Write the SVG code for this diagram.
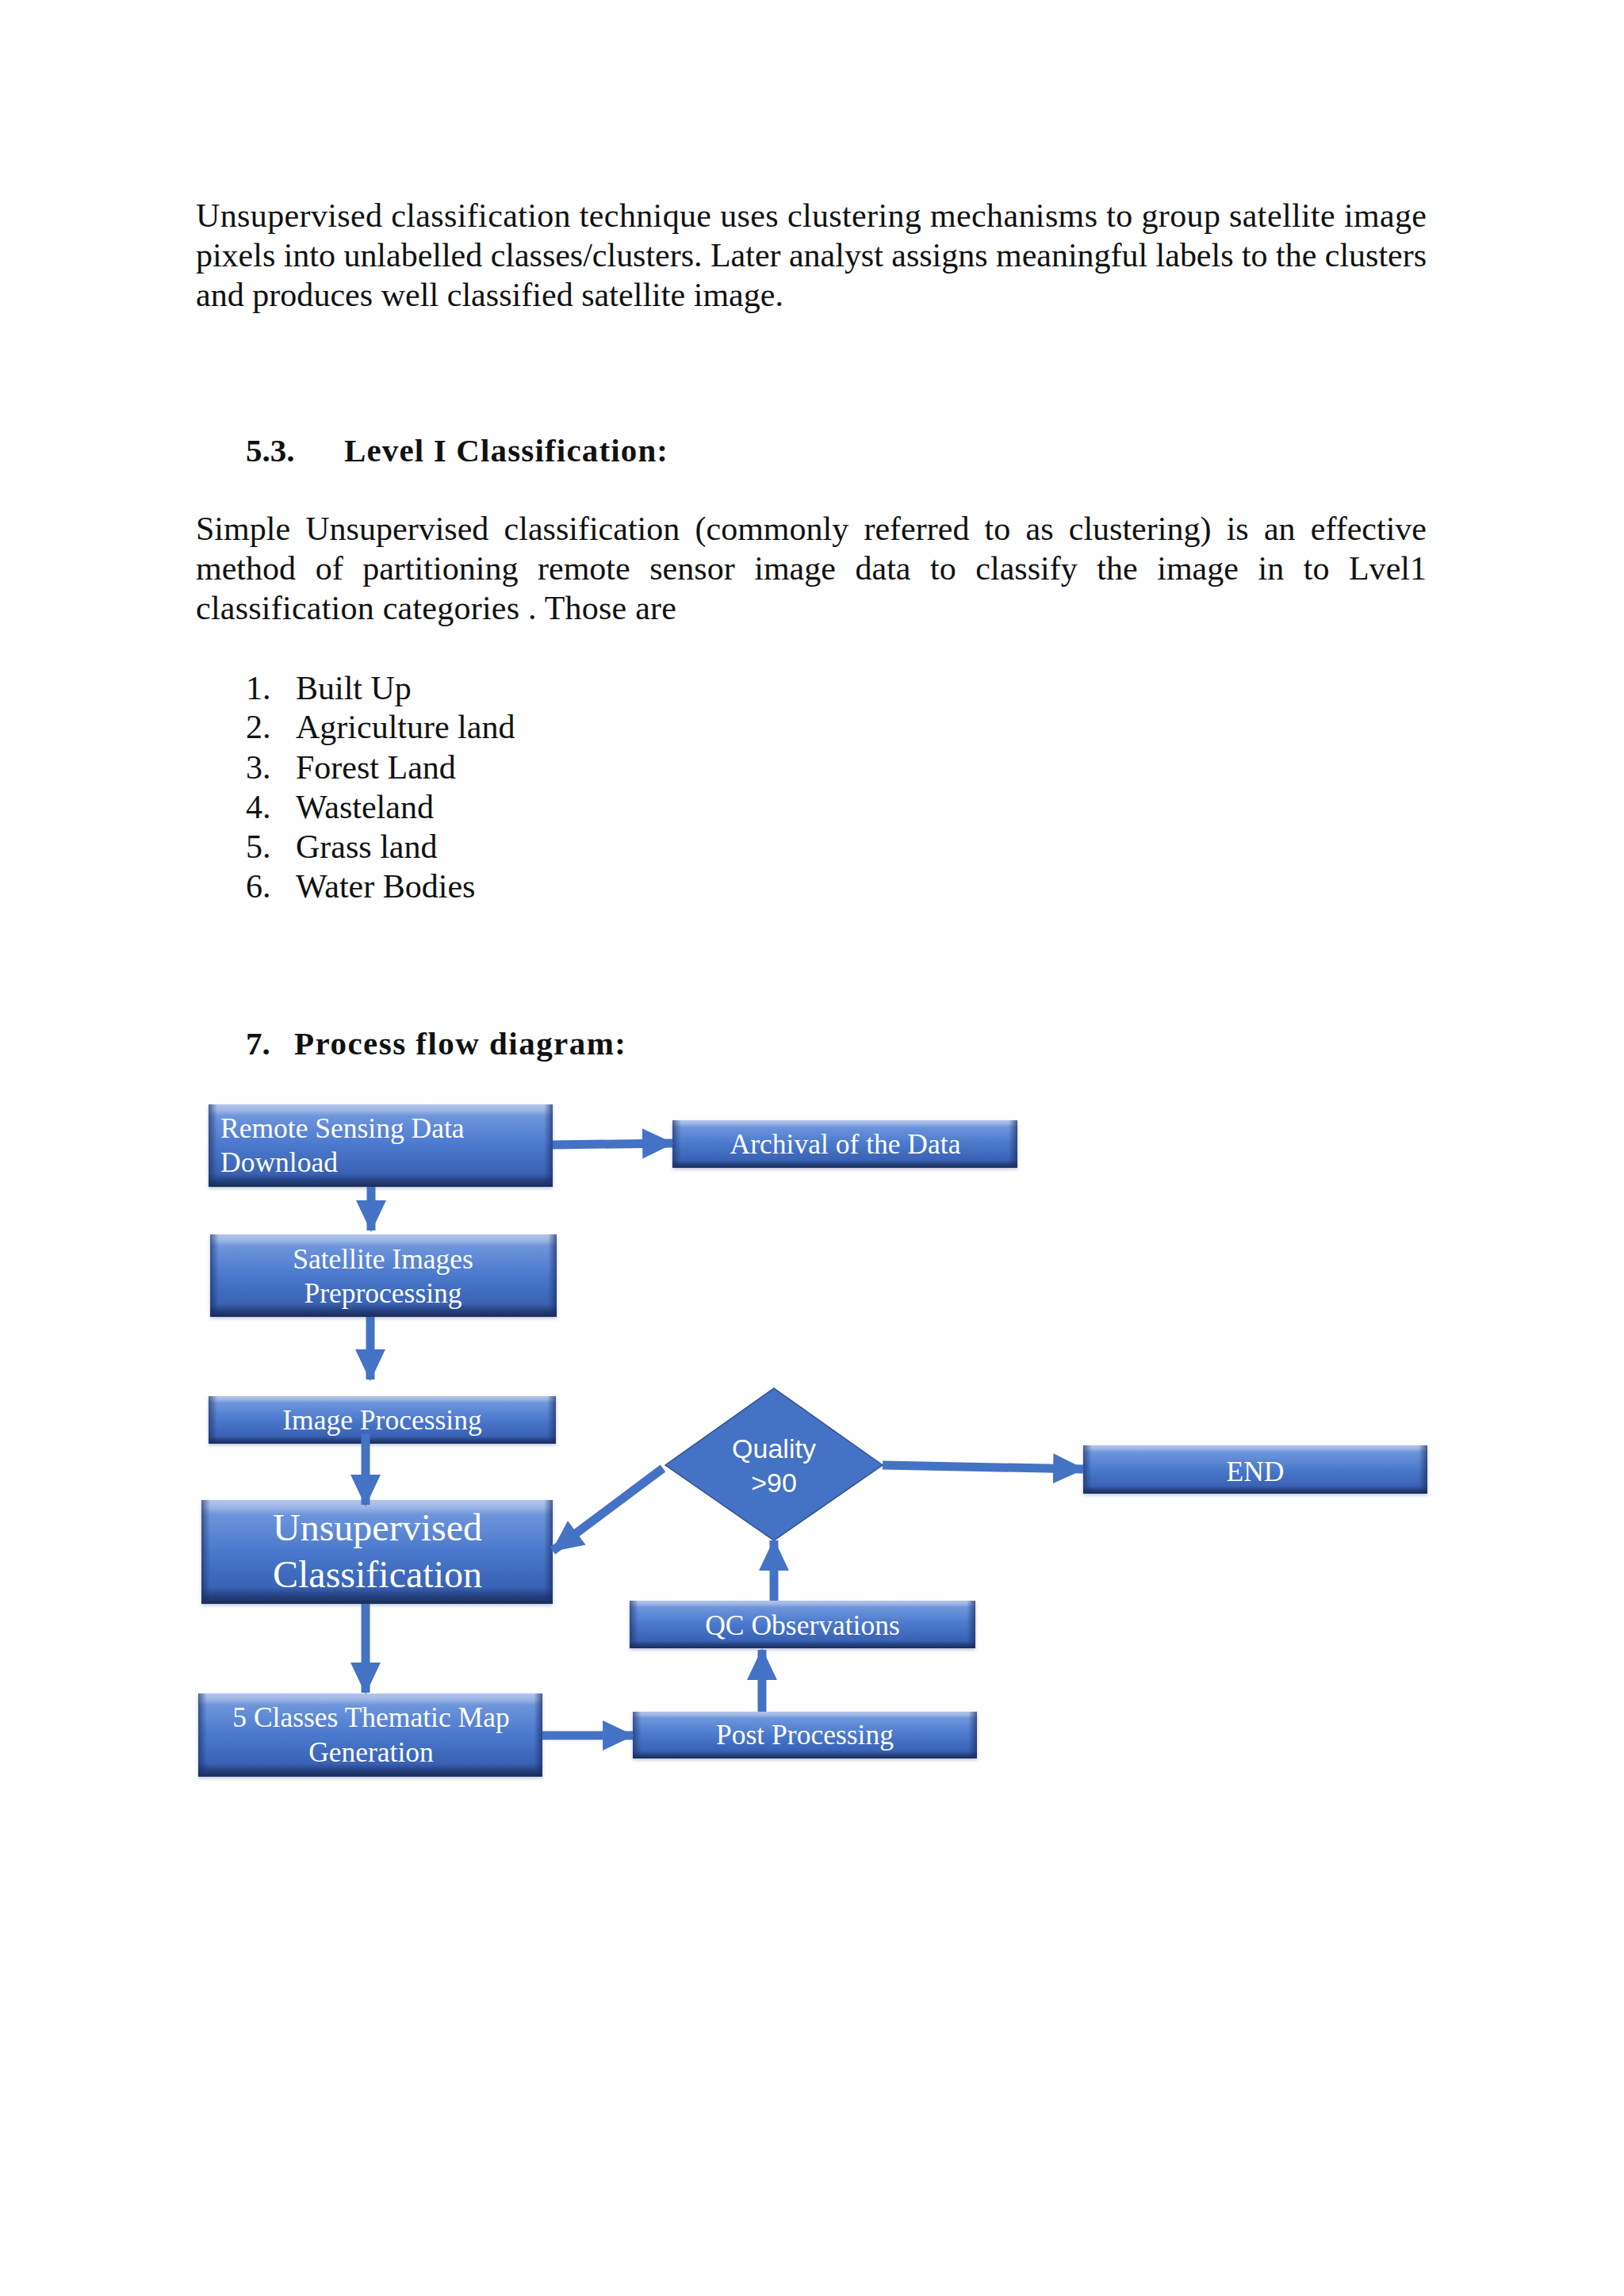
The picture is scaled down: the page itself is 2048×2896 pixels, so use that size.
<svg xmlns="http://www.w3.org/2000/svg" width="2048" height="2896" viewBox="0 0 2048 2896">
<defs>
<linearGradient id="boxV" x1="0" y1="0" x2="0" y2="1">
<stop offset="0" stop-color="#b3c6ea"/>
<stop offset="0.07" stop-color="#9db6e6"/>
<stop offset="0.14" stop-color="#6e95dc"/>
<stop offset="0.5" stop-color="#4a78cc"/>
<stop offset="0.84" stop-color="#3a62b4"/>
<stop offset="0.93" stop-color="#243f7c"/>
<stop offset="1" stop-color="#1b2d57"/>
</linearGradient>
<linearGradient id="boxH" x1="0" y1="0" x2="1" y2="0">
<stop offset="0" stop-color="#1a2f66" stop-opacity="0.65"/>
<stop offset="0.025" stop-color="#1a2f66" stop-opacity="0"/>
<stop offset="0.975" stop-color="#1a2f66" stop-opacity="0"/>
<stop offset="1" stop-color="#1a2f66" stop-opacity="0.7"/>
</linearGradient>
<filter id="sh" x="-5%" y="-10%" width="110%" height="125%">
<feDropShadow dx="0" dy="2" stdDeviation="2" flood-color="#6d7fa8" flood-opacity="0.45"/>
</filter>
<marker id="ah" markerUnits="userSpaceOnUse" markerWidth="40" markerHeight="40" viewBox="0 0 38 36" refX="36" refY="18" orient="auto">
<path d="M0,0 L38,18 L0,36 Z" fill="#4472c4"/>
</marker>
</defs>
<style>
.body{font-family:"Liberation Serif","Times New Roman",serif;font-size:42px;fill:#111;}
.bold{font-weight:bold;font-size:41px;}
.bt{font-family:"Liberation Serif","Times New Roman",serif;font-size:35.5px;fill:#ffffff;text-anchor:middle;}
.big{font-size:48px;}
.box{fill:url(#boxV);filter:url(#sh);}
.edge{fill:url(#boxH);}
.conn{stroke:#4472c4;stroke-width:11;fill:none;marker-end:url(#ah);}
.dia{fill:#4472c4;stroke:#2f528f;stroke-width:1.5;}
.dt{font-family:"Liberation Sans",Arial,sans-serif;font-size:34px;fill:#ffffff;text-anchor:middle;}
</style>
<rect width="2048" height="2896" fill="#ffffff"/>

<g id="text">
<text class="body" x="247" y="286" textLength="1552" lengthAdjust="spacing">Unsupervised classification technique uses clustering mechanisms to group satellite image</text>
<text class="body" x="247" y="336" textLength="1552" lengthAdjust="spacing">pixels into unlabelled classes/clusters. Later analyst assigns meaningful labels to the clusters</text>
<text class="body" x="247" y="386" textLength="741" lengthAdjust="spacing">and produces well classified satellite image.</text>
<text class="body bold" x="310" y="582">5.3.</text>
<text class="body bold" x="434" y="582" textLength="408" lengthAdjust="spacing">Level I Classification:</text>
<text class="body" x="247" y="681" word-spacing="8.7" textLength="1552" lengthAdjust="spacing">Simple Unsupervised classification (commonly referred to as clustering) is an effective</text>
<text class="body" x="247" y="731" word-spacing="14" textLength="1552" lengthAdjust="spacing">method of partitioning remote sensor image data to classify the image in to Lvel1</text>
<text class="body" x="247" y="781" textLength="606" lengthAdjust="spacing">classification categories . Those are</text>
<text class="body" x="310" y="882">1.</text><text class="body" x="373" y="882">Built Up</text>
<text class="body" x="310" y="931">2.</text><text class="body" x="373" y="931">Agriculture land</text>
<text class="body" x="310" y="982">3.</text><text class="body" x="373" y="982">Forest Land</text>
<text class="body" x="310" y="1032">4.</text><text class="body" x="373" y="1032">Wasteland</text>
<text class="body" x="310" y="1082">5.</text><text class="body" x="373" y="1082">Grass land</text>
<text class="body" x="310" y="1132">6.</text><text class="body" x="373" y="1132">Water Bodies</text>
<text class="body bold" x="310" y="1330">7.</text>
<text class="body bold" x="371" y="1330" textLength="418" lengthAdjust="spacing">Process flow diagram:</text>
</g>

<g id="node-remote">
<rect class="box" x="263" y="1393" width="434" height="104"/>
<rect class="edge" x="263" y="1393" width="434" height="104"/>
<text class="bt" x="278" y="1435" style="text-anchor:start">Remote Sensing Data</text>
<text class="bt" x="278" y="1478" style="text-anchor:start">Download</text>
</g>
<g id="node-archival">
<rect class="box" x="848" y="1413" width="435" height="60"/>
<rect class="edge" x="848" y="1413" width="435" height="60"/>
<text class="bt" x="1066" y="1455">Archival of the Data</text>
</g>
<g id="node-satellite">
<rect class="box" x="265" y="1557" width="437" height="104"/>
<rect class="edge" x="265" y="1557" width="437" height="104"/>
<text class="bt" x="483" y="1600">Satellite Images</text>
<text class="bt" x="483" y="1643">Preprocessing</text>
</g>
<g id="node-imageproc">
<rect class="box" x="263" y="1761" width="438" height="60"/>
<rect class="edge" x="263" y="1761" width="438" height="60"/>
<text class="bt" x="482" y="1803">Image Processing</text>
</g>
<g id="node-unsup">
<rect class="box" x="254" y="1892" width="443" height="131"/>
<rect class="edge" x="254" y="1892" width="443" height="131"/>
<text class="bt big" x="476" y="1943">Unsupervised</text>
<text class="bt big" x="476" y="2002">Classification</text>
</g>
<g id="node-thematic">
<rect class="box" x="250" y="2136" width="434" height="105"/>
<rect class="edge" x="250" y="2136" width="434" height="105"/>
<text class="bt" x="468" y="2178">5 Classes Thematic Map</text>
<text class="bt" x="468" y="2222">Generation</text>
</g>
<g id="node-post">
<rect class="box" x="798" y="2159" width="434" height="59"/>
<rect class="edge" x="798" y="2159" width="434" height="59"/>
<text class="bt" x="1015" y="2200">Post Processing</text>
</g>
<g id="node-qc">
<rect class="box" x="794" y="2019" width="436" height="60"/>
<rect class="edge" x="794" y="2019" width="436" height="60"/>
<text class="bt" x="1012" y="2062">QC Observations</text>
</g>
<g id="node-quality">
<polygon class="dia" points="976,1751 1113,1848 976,1943 839,1848"/>
<text class="dt" x="976" y="1839">Quality</text>
<text class="dt" x="976" y="1882">&gt;90</text>
</g>
<g id="node-end">
<rect class="box" x="1366" y="1823" width="434" height="61"/>
<rect class="edge" x="1366" y="1823" width="434" height="61"/>
<text class="bt" x="1583" y="1868">END</text>
</g>

<g id="connectors">
<line class="conn" x1="697" y1="1444" x2="848" y2="1442"/>
<line class="conn" x1="468" y1="1497" x2="468" y2="1552"/>
<line class="conn" x1="467" y1="1661" x2="467" y2="1740"/>
<line class="conn" x1="461" y1="1808" x2="461" y2="1898"/>
<line class="conn" x1="461" y1="2023" x2="461" y2="2135"/>
<line class="conn" x1="684" y1="2189" x2="798" y2="2189"/>
<line class="conn" x1="961" y1="2159" x2="961" y2="2081"/>
<line class="conn" x1="976" y1="2019" x2="976" y2="1943"/>
<line class="conn" x1="836" y1="1852" x2="697" y2="1956"/>
<line class="conn" x1="1113" y1="1848" x2="1366" y2="1853"/>
</g>
</svg>
